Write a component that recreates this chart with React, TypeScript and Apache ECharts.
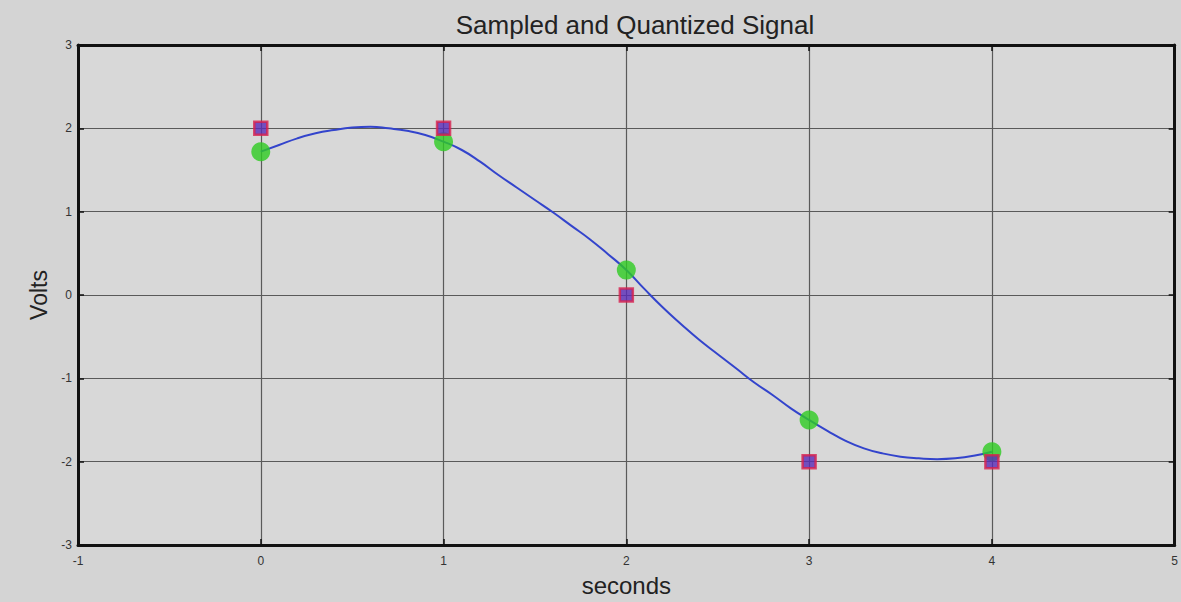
import React, { useEffect, useRef } from "react";
import * as echarts from "echarts";

const curveT = [0, 0.1, 0.2, 0.3, 0.4, 0.5, 0.6, 0.7, 0.8, 0.9, 1.0, 1.1, 1.2, 1.3, 1.4, 1.5, 1.6, 1.7, 1.8, 1.9, 2.0, 2.1, 2.2, 2.3, 2.4, 2.5, 2.6, 2.7, 2.8, 2.9, 3.0, 3.1, 3.2, 3.3, 3.4, 3.5, 3.6, 3.7, 3.8, 3.9, 4.0];
const curveV = [1.72, 1.8, 1.88, 1.94, 1.98, 2.01, 2.02, 2.0, 1.97, 1.92, 1.84, 1.74, 1.6, 1.44, 1.29, 1.14, 0.99, 0.83, 0.67, 0.49, 0.3, 0.07, -0.15, -0.35, -0.54, -0.71, -0.88, -1.05, -1.2, -1.36, -1.5, -1.63, -1.75, -1.84, -1.9, -1.94, -1.96, -1.97, -1.96, -1.93, -1.88];
const sampleT = [0, 1, 2, 3, 4];
const sampleV = [1.72, 1.84, 0.3, -1.5, -1.88];
const quantV = [2, 2, 0, -2, -2];

export default function App() {
  const ref = useRef<HTMLDivElement>(null);
  useEffect(() => {
    if (!ref.current) return;
    const chart = echarts.init(ref.current, null, { renderer: "svg" });
    const axisCommon = {
      type: "value" as const,
      interval: 1,
      axisLine: { show: true, onZero: false, lineStyle: { color: "#111", width: 3 } },
      axisTick: { show: true, inside: true, length: 6, lineStyle: { color: "#111", width: 1.5 } },
    };
    chart.setOption({
      animation: false,
      backgroundColor: "#d4d4d4",
      title: {
        text: "Sampled and Quantized Signal",
        left: 630,
        top: 7,
        textAlign: "center",
        textStyle: { fontFamily: "Liberation Sans", fontSize: 26, fontWeight: "normal", color: "#222" },
      },
      grid: { left: 78, right: 6, top: 45, bottom: 52, show: true, backgroundColor: "#d8d8d8", borderWidth: 0 },
      xAxis: [
        {
          ...axisCommon,
          min: -1,
          max: 5,
          position: "bottom",
          name: "seconds",
          nameLocation: "middle",
          nameGap: 28,
          nameTextStyle: { fontFamily: "Liberation Sans", fontSize: 24, color: "#222" },
          axisLabel: { fontFamily: "Liberation Sans", fontSize: 12, color: "#333", margin: 10 },
          splitLine: { show: true, lineStyle: { color: "#5a5a5a", width: 1.2 } },
        },
        {
          ...axisCommon,
          min: -1,
          max: 5,
          position: "top",
          axisLabel: { show: false },
          splitLine: { show: false },
        },
      ],
      yAxis: [
        {
          ...axisCommon,
          min: -3,
          max: 3,
          position: "left",
          name: "Volts",
          nameLocation: "middle",
          nameGap: 28,
          nameRotate: 90,
          nameTextStyle: { fontFamily: "Liberation Sans", fontSize: 23, color: "#222" },
          axisLabel: { fontFamily: "Liberation Sans", fontSize: 12, color: "#333", margin: 6 },
          splitLine: { show: true, lineStyle: { color: "#5a5a5a", width: 1.2 } },
        },
        {
          ...axisCommon,
          min: -3,
          max: 3,
          position: "right",
          axisLabel: { show: false },
          splitLine: { show: false },
        },
      ],
      series: [
        {
          type: "line",
          data: curveT.map((t, i) => [t, curveV[i]]),
          showSymbol: false,
          smooth: true,
          lineStyle: { color: "#3344cc", width: 2 },
          z: 2,
        },
        {
          type: "scatter",
          data: sampleT.map((t, i) => [t, sampleV[i]]),
          symbol: "circle",
          symbolSize: 19,
          itemStyle: { color: "#2ecc22" },
          z: 3,
        },
        {
          type: "scatter",
          data: sampleT.map((t, i) => [t, quantV[i]]),
          symbol: "rect",
          symbolSize: 13,
          itemStyle: { color: "#5a2cb8", borderColor: "#d8204e", borderWidth: 2.5 },
          z: 4,
        },
      ],
    });
    return () => chart.dispose();
  }, []);
  return <div ref={ref} style={{ position: "fixed", left: 0, top: 0, width: 1181, height: 602 }} />;
}
